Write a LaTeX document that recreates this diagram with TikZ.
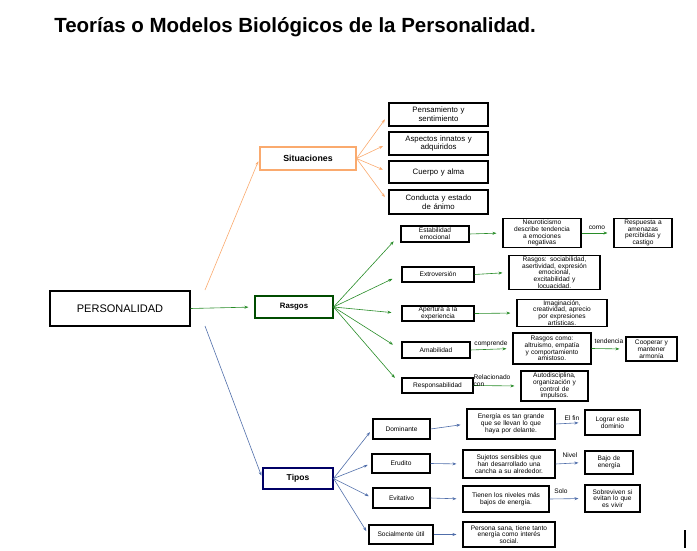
\documentclass[tikz,border=0pt]{standalone}
\usepackage{fontspec}
\setmainfont{Liberation Sans}
\usetikzlibrary{arrows.meta}
\definecolor{peach}{RGB}{250,170,110}
\definecolor{steel}{RGB}{80,110,170}
\definecolor{grn}{RGB}{40,140,40}
\begin{document}
\begin{tikzpicture}[x=1pt,y=-1pt,
  bx/.style={draw=black,line width=1.1pt,align=center,font=\fontsize{6.6}{6.8}\selectfont,inner sep=1pt},
  sbx/.style={bx,font=\fontsize{7.8}{8.6}\selectfont},
  ar/.style={-{Stealth[length=4pt,width=3pt]},line width=0.6pt,shorten >=6pt},
  og/.style={ar,draw=peach,color=peach},
  gr/.style={ar,draw=grn,color=grn},
  bl/.style={ar,draw=steel,color=steel},
  lb/.style={font=\fontsize{6.6}{6.8}\selectfont,inner sep=1pt}]
\useasboundingbox (0,0) rectangle (697,551);
\node[font=\bfseries\fontsize{20.5}{22}\selectfont] (title) at (295,27) {Teorías o Modelos Biológicos de la Personalidad.};
% main
\node[bx,font=\fontsize{11}{12}\selectfont,minimum width=140pt,minimum height=35pt] (P) at (120,308.5) {PERSONALIDAD};
\node[bx,draw=peach,font=\bfseries\fontsize{8.8}{10}\selectfont,minimum width=96pt,minimum height=23pt] (S) at (308,158.5) {Situaciones};
\node[bx,draw=black!70!green,font=\bfseries\fontsize{7.8}{9}\selectfont,minimum width=78pt,minimum height=22pt] (R) at (294,307) {Rasgos};
\node[bx,draw=blue!40!black,font=\bfseries\fontsize{8.5}{9}\selectfont,minimum width=70pt,minimum height=21pt] (T) at (298,478.5) {Tipos};
% situaciones
\foreach \n/\y/\h/\t in {s1/114.5/23/{Pensamiento y\\sentimiento},s2/143.5/23/{Aspectos innatos y\\adquiridos},s3/172/22/{Cuerpo y alma},s4/202/24/{Conducta y estado\\de ánimo}}
  \node[sbx,minimum width=99pt,minimum height=\h pt,text width=95pt] (\n) at (438.5,\y) {\t};
% rasgos and tipos
\foreach \n/\x/\y/\w/\h/\t in {
 r1/435/234/68/16/{Estabilidad\\emocional},
 r1b/542/233/78/27/{Neuroticismo\\describe tendencia\\a emociones\\negativas},
 r1c/643/233/58/27/{Respuesta a\\amenazas\\percibidas y\\castigo},
 r2/438/274.5/72/15/{Extroversión},
 r2b/554.5/272.5/91/33/{Rasgos: sociabilidad,\\asertividad, expresión\\emocional,\\excitabilidad y\\locuacidad.},
 r3/438/313.5/72/15/{Apertura a la\\experiencia},
 r3b/562/313/90/27/{Imaginación,\\creatividad, aprecio\\por expresiones\\artísticas.},
 r4/436/350/68/16/{Amabilidad},
 r4b/552/348.5/78/31/{Rasgos como:\\altruismo, empatía\\y comportamiento\\amistoso.},
 r4c/651.5/349/51/24/{Cooperar y\\mantener\\armonía},
 r5/437.5/385.5/71/15/{Responsabilidad},
 r5b/554.5/386/67/30/{Autodisciplina,\\organización y\\control de\\impulsos.},
 t1/401.5/429/57/20/{Dominante},
 t1b/511/424/88/30/{Energía es tan grande\\que se llevan lo que\\haya por delante.},
 t1c/612.5/422.5/55/25/{Lograr este\\dominio},
 t2/401/463.5/58/19/{Erudito},
 t2b/509/464/92/28/{Sujetos sensibles que\\han desarrollado una\\cancha a su alrededor.},
 t2c/609/462.5/48/23/{Bajo de\\energía},
 t3/401.5/498/57/20/{Evitativo},
 t3b/506/499/86/26/{Tienen los niveles más\\bajos de energía.},
 t3c/612.5/498.5/55/27/{Sobreviven si\\evitan lo que\\es vivir},
 t4/401/534.5/64/19/{Socialmente útil},
 t4b/509/534.5/92/25/{Persona sana, tiene tanto\\energía como interés\\social.}}
  \node[bx,minimum width=\w pt,minimum height=\h pt,text width=\w pt-3pt] (\n) at (\x,\y) {\t};
\draw[line width=1.2pt] (685,530) -- (685,548);
% connectors
\coordinate (po) at (205,290);
\draw[og,shorten >=3pt] (po) -- (S.west);
\foreach \c in {s1,s2,s3,s4} \draw[og] (S.east) -- (\c.west);
\draw[gr] (P.east) -- (R.west);
\coordinate (pb) at (205,326);
\draw[bl,shorten >=3pt] (pb) -- (T.west);
\foreach \c in {r1,r2,r3,r4,r5} \draw[gr,shorten >=10pt] (R.east) -- (\c.west);
\foreach \a/\b in {r1/r1b,r1b/r1c,r2/r2b,r3/r3b,r4/r4b,r4b/r4c,r5/r5b} \draw[gr] (\a.east) -- (\b.west);
\foreach \c in {t1,t2,t3,t4} \draw[bl,shorten >=4pt] (T.east) -- (\c.west);
\foreach \a/\b in {t1/t1b,t1b/t1c,t2/t2b,t2b/t2c,t3/t3b,t3b/t3c,t4/t4b} \draw[bl] (\a.east) -- (\b.west);
% labels
\node[lb] (l1) at (597,228) {como};
\node[lb] (l2) at (491,344) {comprende};
\node[lb] (l3) at (609,341) {tendencia};
\node[lb,align=left] (l4) at (492,381) {Relacionado\\con};
\node[lb] (l5) at (572,418) {El fin};
\node[lb] (l6) at (570,455) {Nivel};
\node[lb] (l7) at (561,491) {Solo};
\end{tikzpicture}
\end{document}
